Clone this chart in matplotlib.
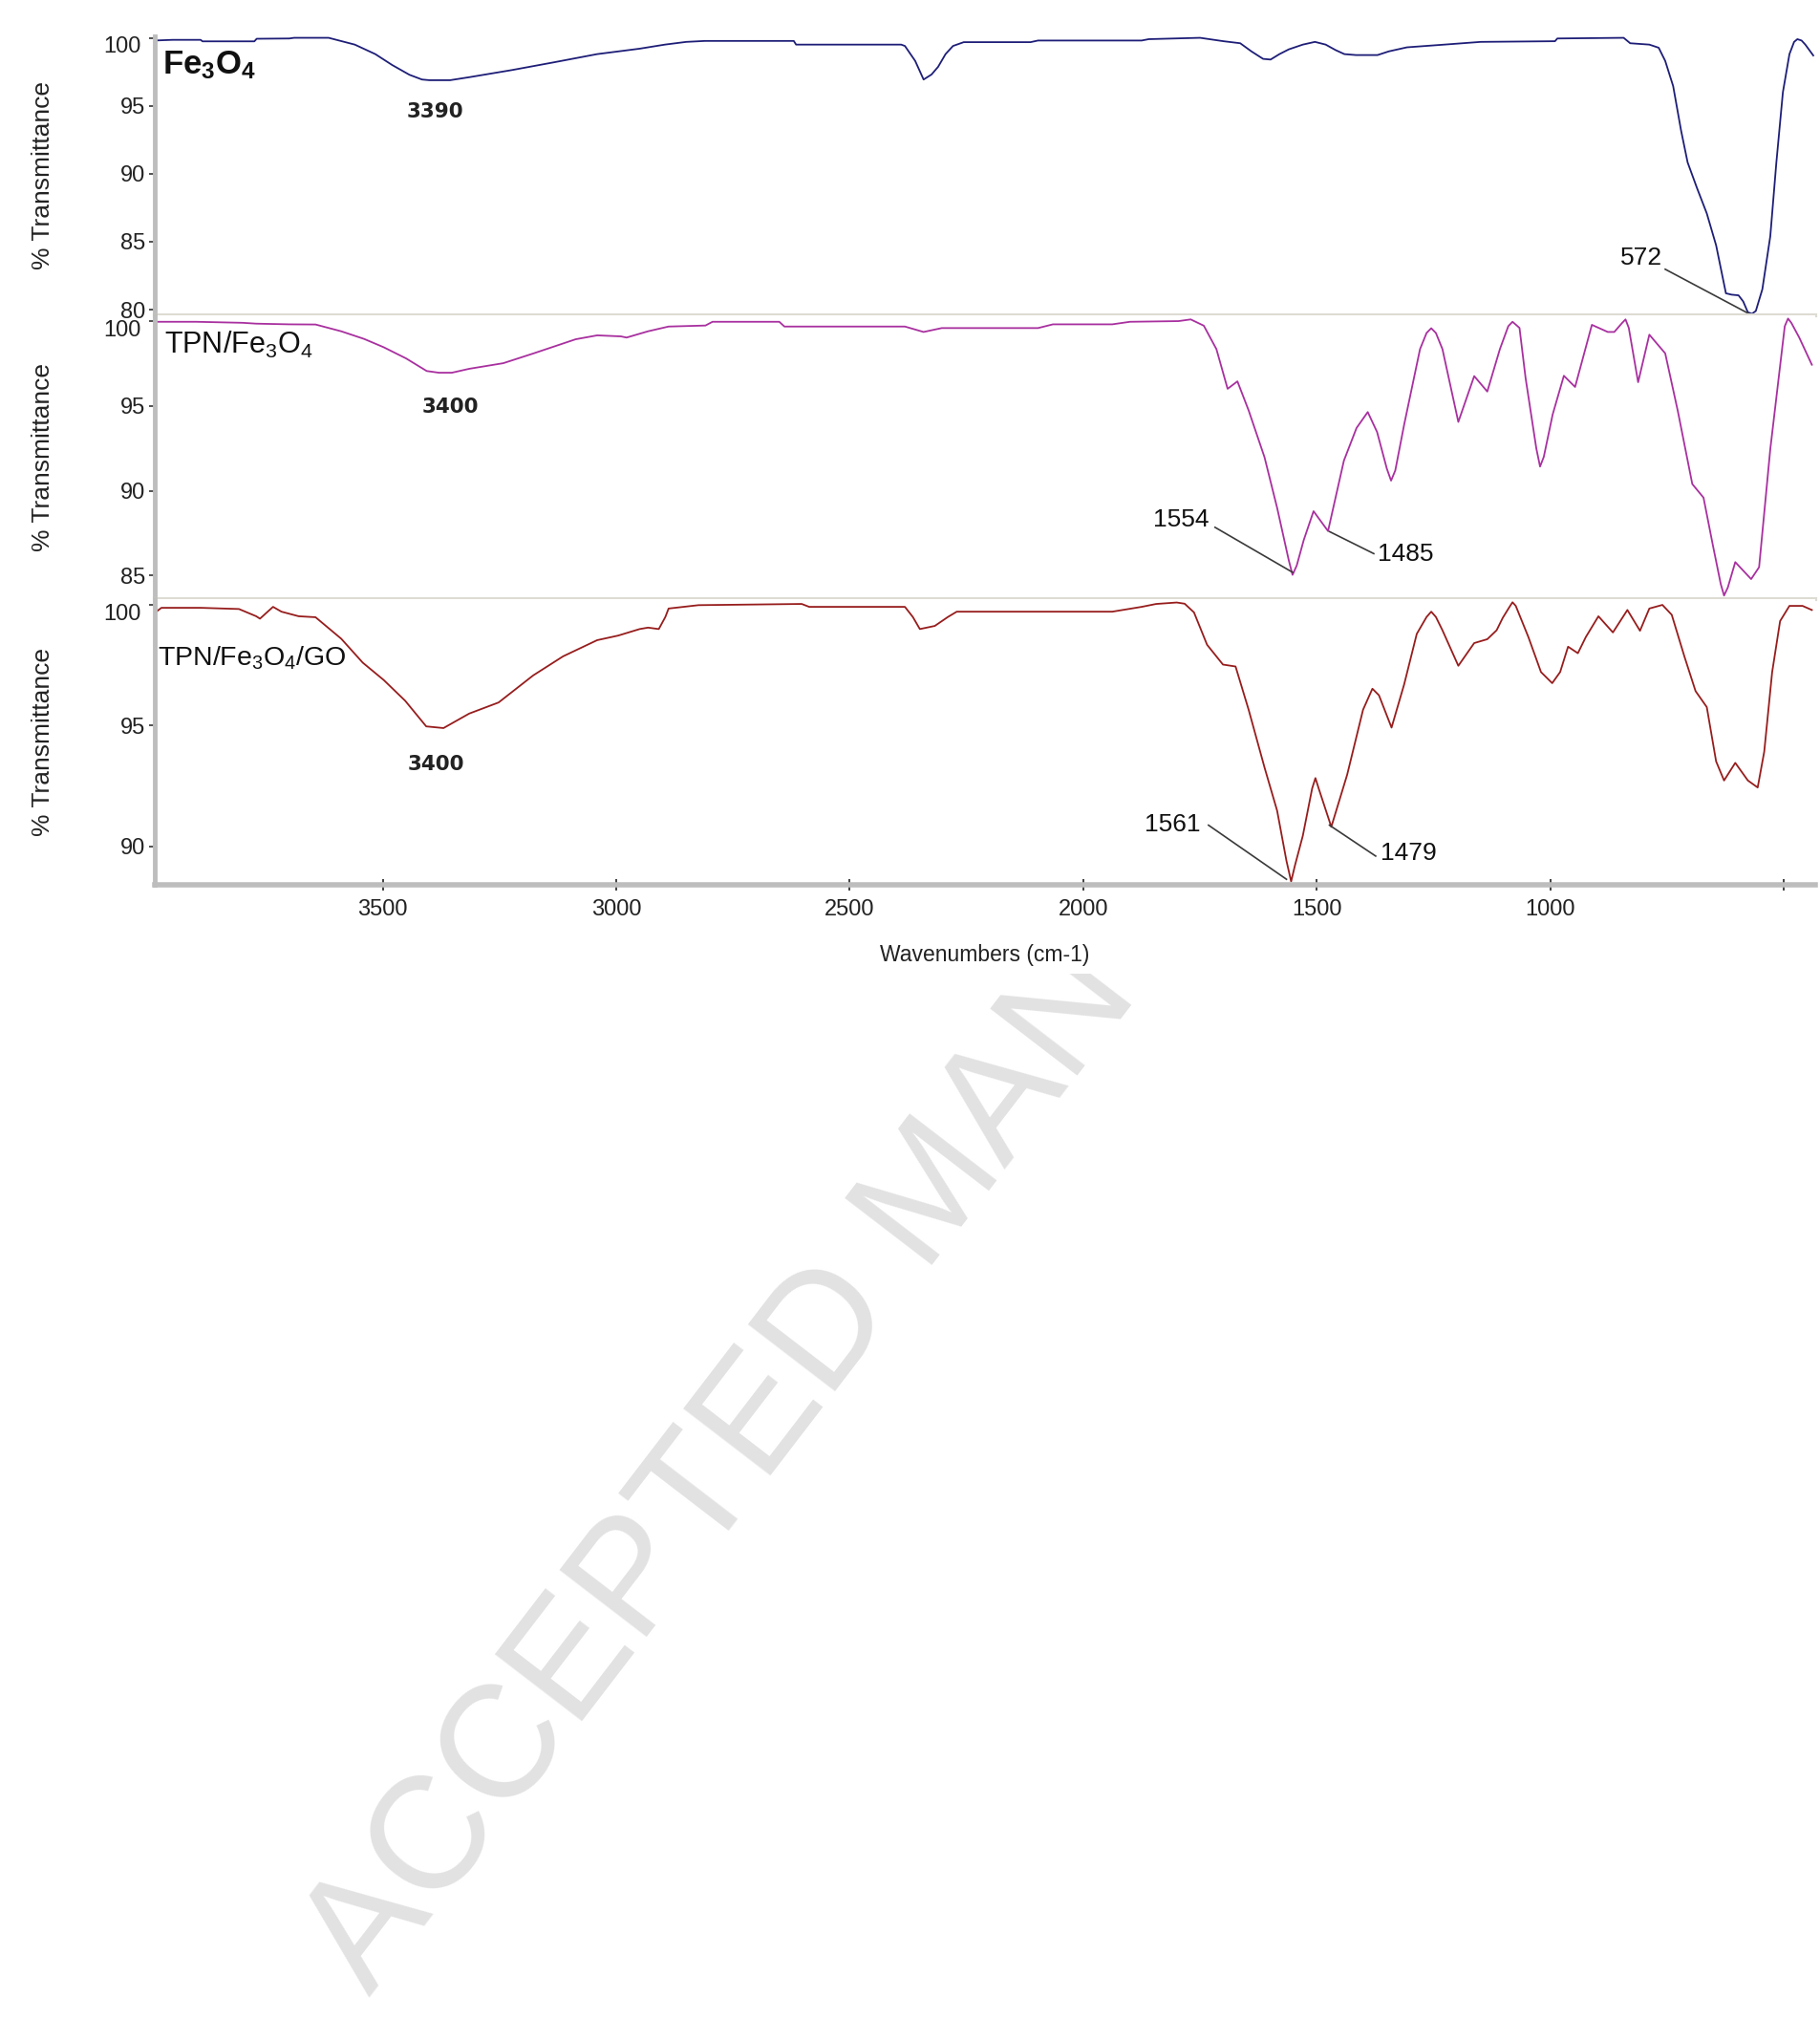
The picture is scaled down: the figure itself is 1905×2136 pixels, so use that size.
import numpy as np
import matplotlib.pyplot as plt
from matplotlib.patches import Rectangle

plt.rcParams['font.family'] = ['Liberation Sans', 'DejaVu Sans']
plt.rcParams['mathtext.default'] = 'regular'

#===============================================================================
# Data

wn_fe = [3989, 3950, 3890, 3886, 3775, 3770, 3700, 3690, 3616, 3560, 3516, 3480,
         3443, 3416, 3400, 3356, 3315, 3223, 3133, 3041, 2950, 2896, 2850, 2810,
         2620, 2615, 2390, 2382, 2360, 2342, 2325, 2311, 2295, 2279, 2256, 2113,
         2097, 1875, 1860, 1750, 1700, 1664, 1640, 1615, 1599, 1580, 1560, 1530,
         1504, 1481, 1460, 1441, 1416, 1370, 1346, 1307, 1227, 1149, 990, 985,
         843, 829, 788, 768, 754, 737, 720, 706, 686, 665, 645, 624, 612, 597,
         587, 577, 568, 560, 546, 529, 516, 502, 488, 478, 471, 462, 454, 437]
t_fe = [99.8, 99.85, 99.85, 99.74, 99.74, 99.93, 99.95, 100.0, 100.0, 99.5, 98.8, 98.0,
        97.28, 96.93, 96.88, 96.88, 97.1, 97.63, 98.2, 98.8, 99.2, 99.5, 99.7, 99.77,
        99.77, 99.5, 99.5, 99.4, 98.3, 96.93, 97.3, 97.86, 98.8, 99.4, 99.68, 99.68,
        99.8, 99.8, 99.9, 100.0, 99.75, 99.6, 99.0, 98.45, 98.4, 98.8, 99.15, 99.5,
        99.7, 99.5, 99.1, 98.8, 98.73, 98.73, 99.0, 99.3, 99.5, 99.7, 99.75, 99.95,
        100.0, 99.6, 99.5, 99.27, 98.3, 96.45, 93.17, 90.83, 88.95, 87.08, 84.73, 81.2, 81.1, 81.05,
        80.6, 79.8, 79.7, 79.9, 81.5, 85.4, 90.83, 96.0, 98.8, 99.7, 99.9, 99.8, 99.5, 98.7]

wn_tpn = [3989, 3900, 3800, 3771, 3700, 3644, 3589, 3540, 3498, 3450, 3406, 3380,
          3352, 3315, 3242, 3178, 3087, 3041, 2990, 2978, 2932, 2888, 2809, 2794,
          2651, 2640, 2382, 2342, 2303, 2097, 2065, 1938, 1900, 1796, 1770, 1742,
          1715, 1691, 1670, 1646, 1612, 1585, 1560, 1552, 1543, 1528, 1507, 1476,
          1442, 1415, 1391, 1371, 1350, 1341, 1332, 1313, 1279, 1265, 1255, 1245,
          1231, 1197, 1163, 1135, 1108, 1090, 1081, 1066, 1053, 1030, 1022, 1014,
          995, 971, 947, 911, 877, 863, 846, 839, 832, 812, 788, 754,
          727, 696, 672, 652, 635, 628, 620, 604, 570, 553, 529, 498, 491, 484, 467, 440]
t_tpn = [99.96, 99.96, 99.9, 99.85, 99.81, 99.8, 99.4, 98.95, 98.46, 97.8, 97.06, 96.96,
         96.96, 97.19, 97.52, 98.09, 98.93, 99.16, 99.1, 99.03, 99.4, 99.68, 99.74, 99.96,
         99.96, 99.68, 99.68, 99.36, 99.59, 99.59, 99.81, 99.81, 99.96, 100.0, 100.1, 99.73,
         98.35, 96.01, 96.45, 94.74, 91.98, 89.0, 85.9, 85.05, 85.6, 87.1, 88.8, 87.63,
         91.78, 93.7, 94.64, 93.47, 91.3, 90.6, 91.2, 93.9, 98.35, 99.3, 99.58, 99.3,
         98.35, 94.06, 96.76, 95.85, 98.35, 99.7, 99.96, 99.6, 96.65, 92.5, 91.43, 92.0,
         94.5, 96.78, 96.12, 99.78, 99.36, 99.36, 99.9, 100.1, 99.6, 96.4, 99.2, 98.1,
         94.7, 90.4, 89.6, 86.8, 84.5, 83.83, 84.3, 85.8, 84.8, 85.5, 92.46, 99.7, 100.15, 99.9, 99.03, 97.43]

wn_go = [3989, 3974, 3890, 3808, 3771, 3763, 3735, 3717, 3680, 3644, 3589, 3543,
         3498, 3452, 3407, 3370, 3315, 3252, 3178, 3114, 3041, 2996, 2950, 2932,
         2909, 2895, 2888, 2824, 2603, 2587, 2382, 2365, 2350, 2318, 2290, 2271,
         1938, 1875, 1844, 1800, 1783, 1763, 1735, 1701, 1674, 1646, 1612, 1585,
         1565, 1555, 1547, 1530, 1510, 1503, 1496, 1469, 1435, 1401, 1381, 1367,
         1340, 1313, 1286, 1265, 1255, 1245, 1231, 1197, 1163, 1135, 1115, 1102,
         1088, 1081, 1074, 1047, 1020, 996, 979,
         962, 941, 924, 897, 866, 835, 808, 788, 760, 740, 713, 689, 665, 645,
         628, 604, 577, 556, 542, 525, 508, 488, 460, 440]
t_go = [99.66, 99.88, 99.88, 99.83, 99.53, 99.43, 99.92, 99.72, 99.53, 99.49, 98.6, 97.61,
        96.89, 96.03, 94.97, 94.9, 95.5, 95.96, 97.08, 97.87, 98.54, 98.73, 99.0, 99.06,
        99.0, 99.5, 99.85, 99.99, 100.04, 99.92, 99.92, 99.5, 99.0, 99.13, 99.5, 99.72,
        99.72, 99.92, 100.04, 100.1, 100.05, 99.69, 98.35, 97.53, 97.45, 95.66, 93.27, 91.48,
        89.4, 88.55, 89.2, 90.44, 92.4, 92.83, 92.4, 90.81, 92.97, 95.66, 96.53, 96.26,
        94.92, 96.71, 98.8, 99.5, 99.72, 99.5, 98.95, 97.48, 98.42, 98.58, 98.95, 99.46,
        99.9, 100.11, 99.96, 98.67, 97.22, 96.76, 97.22,
        98.27, 98.0, 98.67, 99.53, 98.86, 99.79, 98.93, 99.85, 100.0, 99.59, 97.87, 96.43, 95.77, 93.52,
        92.73, 93.46, 92.73, 92.44, 93.92, 97.22, 99.33, 99.96, 99.96, 99.79]

panel_names = ['Fe$_3$O$_4$', 'TPN/Fe$_3$O$_4$', 'TPN/Fe$_3$O$_4$/GO']
panel_colors = ['#1e1e78', '#a8309f', '#971d1d']
panel_ylims = [(79.58, 100.11), (83.62, 100.34), (88.41, 100.24)]
panel_yticks = [[80, 85, 90, 95, 100], [85, 90, 95, 100], [90, 95, 100]]
xticks = [3500, 3000, 2500, 2000, 1500, 1000, 500]
xticklabels = ['3500', '3000', '2500', '2000', '1500', '1000', '']

# broad band labels: (text, x, y)
broad_labels = [('3390', 3387, 94.56), ('3400', 3356, 94.95), ('3400', 3386, 93.4)]
# leader-line labels: (text, text_x, text_y, line_x0, line_y0, line_x1, line_y1)
leader_labels = [
    [('572', 806, 83.8, 754, 82.97, 577, 79.74)],
    [('1554', 1790, 88.3, 1718, 87.85, 1552, 85.2),
     ('1485', 1310, 86.25, 1473, 87.6, 1378, 86.3)],
    [('1561', 1810, 90.9, 1732, 90.88, 1565, 88.64),
     ('1479', 1303, 89.72, 1473, 90.88, 1374, 89.6)],
]
name_pos = [(3972, 98.0, 25), (3968, 98.6, 22), (3983, 97.78, 20.5)]

#===============================================================================
# Figure

fig = plt.figure(figsize=(19.06, 21.36), dpi=100)

# watermark behind the chart image
fig.text(0.203, 0.021, 'ACCEPTED MANUSCRIPT', fontsize=120, color='#e2e2e2',
         rotation=52.5, rotation_mode='anchor', ha='left', va='baseline', zorder=-2)
fig.add_artist(Rectangle((0, 0.523), 1, 0.477, transform=fig.transFigure,
                         facecolor='white', edgecolor='none', zorder=-1))

L, W = 0.0848, 0.9120
boxes = [(0.84551, 0.13670), (0.70646, 0.13904), (0.56648, 0.13998)]
data = [(wn_fe, t_fe), (wn_tpn, t_tpn), (wn_go, t_go)]

for i in range(3):
    ax = fig.add_axes([L, boxes[i][0], W, boxes[i][1]])
    x, y = data[i]
    ax.plot(x, y, color=panel_colors[i], lw=1.3)
    ax.set_xlim(3989, 433)
    ax.set_ylim(*panel_ylims[i])

    for s in ['top', 'right']:
        ax.spines[s].set_visible(False)
    ax.spines['left'].set_color('#bdbdbd')
    ax.spines['left'].set_linewidth(3.5)

    # y ticks; the top "100" label sits a bit lower like the original
    yt = panel_yticks[i]
    ax.set_yticks(yt)
    ax.set_yticklabels(['' if v == 100 else str(v) for v in yt], fontsize=17)
    ax.annotate('100', xy=(0, 100), xycoords=ax.get_yaxis_transform(),
                xytext=(-10, -7), textcoords='offset points', ha='right',
                va='center', fontsize=17, color='#222222')
    ax.set_yticks(np.arange(int(np.ceil(panel_ylims[i][0])), 101), minor=True)
    ax.tick_params(axis='y', which='major', direction='out', length=4, width=1.2,
                   color='#333333', pad=3, labelcolor='#222222')
    ax.tick_params(axis='y', which='minor', direction='inout', length=2, width=1.6,
                   color='#333333')

    ax.set_ylabel('% Transmittance', fontsize=19, va='center', color='#222222')
    ax.yaxis.set_label_coords(-0.0671, 0.5)

    if i < 2:
        ax.spines['bottom'].set_color('#dddbd3')
        ax.spines['bottom'].set_linewidth(3)
        ax.set_xticks([])
        ax.set_xticks([], minor=True)
    else:
        ax.spines['bottom'].set_color('#bdbdbd')
        ax.spines['bottom'].set_linewidth(4)
        ax.set_xticks(xticks)
        ax.set_xticklabels(xticklabels, fontsize=17, color='#222222')
        ax.set_xticks(np.arange(500, 4000, 100), minor=True)
        ax.tick_params(axis='x', which='major', direction='inout', length=9, width=1.3,
                       color='#333333', pad=6)
        ax.tick_params(axis='x', which='minor', direction='inout', length=2.5, width=1.6,
                       color='#333333')
        ax.set_xlabel('Wavenumbers (cm-1)', fontsize=16.5, color='#222222', labelpad=18)

    # sample name
    nx, ny, nfs = name_pos[i]
    ax.text(nx, ny, panel_names[i], fontsize=nfs, ha='left', va='center',
            color='#111111', fontweight='bold' if i == 0 else 'normal')

    # broad O-H band label
    bt, bx, by = broad_labels[i]
    ax.text(bx, by, bt, fontsize=15.5, family='DejaVu Sans', fontweight='bold',
            ha='center', va='center', color='#222222')

    # peak labels with leader lines
    for (txt, tx, ty, x0, y0, x1, y1) in leader_labels[i]:
        ax.plot([x0, x1], [y0, y1], color='#3a3a3a', lw=1.2)
        ax.text(tx, ty, txt, fontsize=19, ha='center', va='center', color='#111111')

fig.savefig('out.png', dpi=100)
